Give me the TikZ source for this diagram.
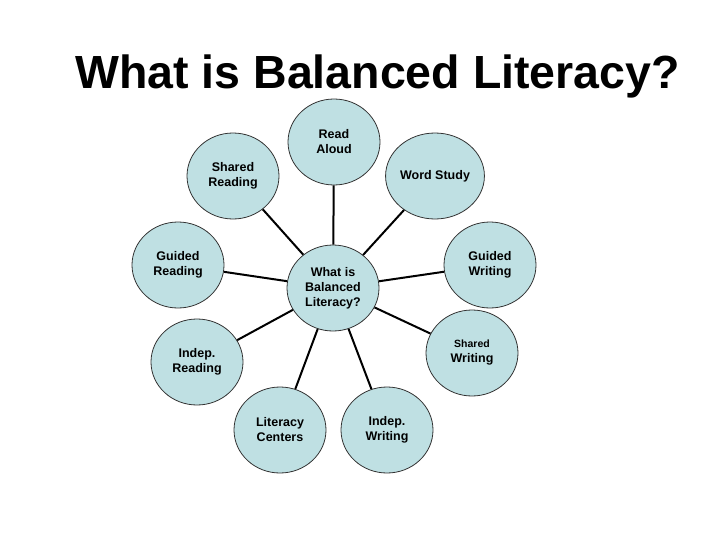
\documentclass[tikz,border=0pt]{standalone}
\usepackage{fontspec}
\setmainfont{Liberation Sans}
\usetikzlibrary{shapes.geometric}
\definecolor{cfill}{RGB}{191,224,227}
\tikzset{bub/.style={ellipse,draw=black!80,line width=0.8pt,fill=cfill,minimum width=92pt,minimum height=86pt,inner sep=0pt,align=center,font=\bfseries\fontsize{12.5}{15}\selectfont},
spoke/.style={line width=2pt}}
\begin{document}
\begin{tikzpicture}[x=1pt,y=1pt]
\useasboundingbox (0,0) rectangle (728,-546);
\node[anchor=base west,inner sep=0pt,font=\bfseries\fontsize{46.5}{50}\selectfont] (title) at (75,-88) {What is Balanced Literacy?};
\node[bub] (c) at (333,-288) {What is\\Balanced\\Literacy?};
\node[bub] (ra) at (334,-142) {Read\\Aloud};
\node[bub] (ws) at (435,-176) {Word Study};
\node[bub] (gw) at (490,-265) {Guided\\Writing};
\node[bub] (sw) at (472,-353) {{\fontsize{10.5}{15}\selectfont Shared}\\Writing};
\node[bub] (iw) at (387,-430) {Indep.\\Writing};
\node[bub] (lc) at (280,-430) {Literacy\\Centers};
\node[bub] (ir) at (197,-362) {Indep.\\Reading};
\node[bub] (gr) at (178,-265) {Guided\\Reading};
\node[bub] (sr) at (233,-176) {Shared\\Reading};
\foreach \n in {ra,ws,gw,sw,iw,lc,ir,gr,sr}{\draw[spoke] (c) -- (\n);}
\end{tikzpicture}
\end{document}
